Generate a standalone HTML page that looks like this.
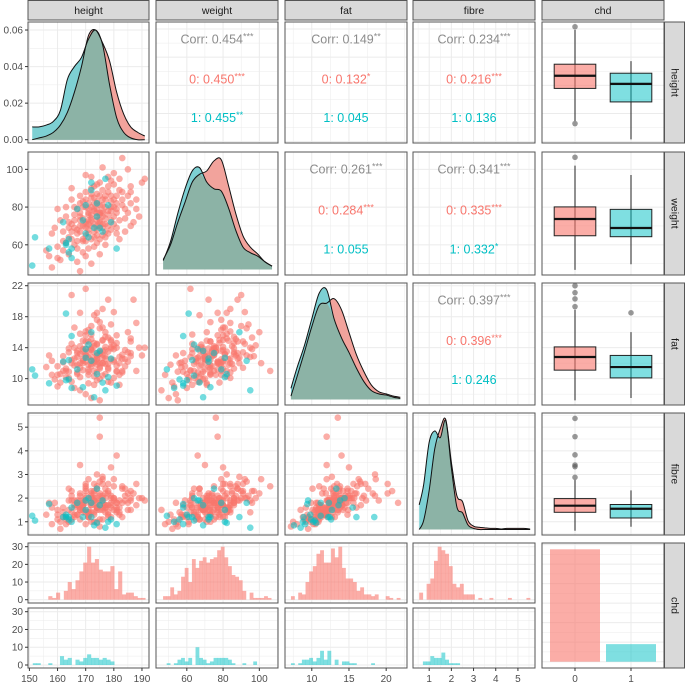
<!DOCTYPE html>
<html><head><meta charset="utf-8"><style>
html,body{margin:0;padding:0;background:#fff;}
svg{display:block;font-family:"Liberation Sans",sans-serif;}
</style></head><body>
<svg id="chart" width="685" height="686" viewBox="0 0 685 686"></svg>
<script>
// ===== data (chd = 0, red) =====
const hgt0=[175,175,181,179,168,174,190,191,183,185,176,160,156,158,161,163,165,170,178,187,168,172,175,166,182,170,172,174,176,171,169,173,177,180,178,167,165,164,162,170,172,175,179,181,183,185,186,188,176,174,171,169,167,165,163,160,158,157,166,168,170,173,176,178,180,182,184,186,189,177,175,173,171,169,167,165,163,161,159,172,174,176,178,174,172,170,168,171,173,175,177,179,181,183,180,176,173,170,168,166,164,172,174,177,179,171,169,173,175,177,160,162,164,167,170,178,181,184,186,188,174,172,170,176,168,166,180,182,174,171,
172,174,176,170,173,175,177,171,169,178,180,172,174,168,166,176,179,181,183,175,173,171,169,167,165,177,179,182,184,186,170,172,168,174,176,178,180,164,162,173,175,171,169,167,177,174,172,179,181,185];
const wgt0=[76,77,66,80,70,82,93,95,106,100,101,79,57,48,52,75,90,62,88,72,46,50,55,60,63,72,76,70,78,68,74,85,84,75,70,66,71,64,67,80,90,93,94,86,81,77,82,79,65,61,58,56,58,63,61,59,66,54,76,82,88,91,89,96,98,89,74,70,75,71,73,67,79,83,79,84,80,73,69,74,77,75,78,73,70,69,73,76,79,81,80,83,79,84,71,69,64,65,67,69,72,85,87,86,73,71,62,59,63,60,53,57,55,51,54,66,69,67,88,84,92,96,97,84,77,80,92,95,68,82,
73,75,77,71,78,72,74,77,70,76,80,80,83,75,73,71,86,77,88,86,82,66,63,68,67,64,68,73,79,91,84,87,86,79,81,91,84,69,62,71,70,73,80,62,67,65,63,78,82,86];
const fat0=[13.5,12.0,14.0,15,12,18.5,13,14,11,16,12,10.5,11.5,10.5,9.5,11,20.8,21.6,20.2,20.2,8.5,7.5,7.2,8.8,9.2,13,14,12.5,15,11.8,13.5,14.2,12.6,13.8,11.2,10.8,12.4,10.1,12.9,15.6,16.8,16.5,17.0,14.6,13.1,12.2,15.2,11.0,10.4,9.8,10.9,12.0,13.3,14.5,10.2,11.6,12.3,13.0,14.0,15.8,14.8,13.4,12.7,15.3,14.3,12.0,13.7,12.9,14.0,16.0,17.3,18.2,16.3,14.9,13.6,12.0,11.3,10.6,9.9,11.6,12.2,13.1,11.9,10.8,12.8,13.9,11.4,10.5,12.1,13.2,14.1,12.5,11.7,10.8,12.4,13.6,11.0,12.2,10.2,12.6,13.9,11.9,13.0,15.4,14.8,9.4,11.1,12.3,13.3,10.6,9.0,12.1,10.9,11.8,8.0,9.6,10.9,11.6,13.3,17.2,14.5,13.8,12.9,19.0,18.5,16.6,18.6,12.8,14.4,13.5,
12.4,13.0,12.0,13.2,14.6,11.5,12.9,11.2,12.5,13.5,12.2,13.7,11.8,14.2,11.7,14.9,13.9,15.6,12.6,11.3,10.3,12.7,13.8,10.6,9.6,11.9,14.1,10.5,12.5,14.8,16.1,15.1,13.2,17.6,16.6,11.4,10.1,13.4,11.0,9.2,10.0,14.8,12.3,12.8,13.7,12.6,15.7,9.5,11.0,13.4];
const fib0=[5.4,4.6,3.8,3.3,3.4,3.0,2.0,1.9,2.5,2.2,2.8,1.5,1.3,0.9,0.7,1.1,2.3,1.8,2.6,2.2,1.5,1.0,0.8,1.2,1.6,2.1,1.8,1.6,2.0,1.5,1.9,2.3,1.7,2.5,1.4,1.3,1.9,2.4,1.6,2.6,2.0,2.7,2.1,1.8,1.2,1.5,2.0,1.7,1.1,1.0,1.2,1.4,1.7,2.1,0.9,1.3,1.6,1.8,1.9,2.2,2.4,2.6,2.9,2.3,2.0,1.9,2.1,1.5,2.0,1.6,1.9,2.2,2.8,1.5,1.7,1.4,1.2,1.0,1.8,1.4,1.6,1.8,1.3,1.5,1.7,2.0,1.6,1.2,1.9,2.1,1.7,1.6,1.4,1.8,2.0,1.5,1.3,1.4,1.1,1.6,1.9,2.2,2.5,2.0,1.8,1.3,1.7,1.9,2.2,1.6,1.1,1.2,1.0,1.3,0.9,1.2,1.5,2.4,1.9,2.6,2.0,1.8,2.3,1.9,2.1,1.7,2.8,1.4,1.6,1.4,
1.7,1.8,1.6,1.9,2.0,1.5,2.2,1.4,1.8,1.7,1.9,2.3,1.6,1.5,1.3,2.1,2.0,1.8,2.4,1.7,1.4,1.2,1.6,1.8,1.1,1.4,1.7,1.3,1.9,2.3,2.5,2.1,1.9,2.4,2.6,2.2,1.5,1.5,1.4,1.0,1.1,1.3,1.7,1.9,2.4,1.8,2.0,1.2,1.6,1.8];
// ===== data (chd = 1, teal) =====
const hgt1=[151,152,157,162,163,164,164,165,163,165,167,169,170,170,172,172,173,174,175,176,177,178,179,181,174,171];
const wgt1=[49,64,58,72,60,63,56,53,61,58,79,73,66,81,93,89,69,75,69,67,95,81,72,58,82,64];
const fat1=[11.2,10.4,9.4,12.2,9.8,12.4,9.9,8.8,18.4,15.5,11.2,8.9,13.8,12.7,12.3,16.0,7.6,13.3,13.6,9.5,8.5,10.2,12.6,9.1,10.6,14.4];
const fib1=[1.25,1.05,1.75,1.2,1.3,1.2,1.1,1.0,1.2,1.6,1.8,1.2,1.9,1.5,1.8,1.2,0.85,2.4,1.7,1.9,0.75,1.0,1.1,0.9,0.95,2.0];
// ===== density curves =====
const densHgtX=[151,153.5,156,158.5,161,163.5,166,168.5,171,173.5,176,178.5,181,183.5,186,188.5,191];
const densHgt0=[0.000,0.001,0.002,0.004,0.008,0.015,0.026,0.040,0.057,0.060,0.053,0.043,0.026,0.014,0.007,0.004,0.002];
const densHgt1=[0.007,0.007,0.008,0.010,0.016,0.033,0.040,0.045,0.055,0.060,0.052,0.030,0.012,0.004,0.001,0.000,0.000];
const densWgtX=[47,51,55,59,63,67,71,75,79,83,87,91,95,99,103,107];
const densWgt0=[0.09,0.22,0.42,0.60,0.78,0.85,0.88,0.97,0.98,0.75,0.50,0.30,0.20,0.14,0.07,0.03];
const densWgt1=[0.08,0.25,0.50,0.72,0.88,0.91,0.78,0.72,0.70,0.55,0.35,0.20,0.15,0.12,0.07,0.03];
const densFatX=[7.2,8,9,10,11,12,13,14,15,16,17,18,19,20,21,21.9];
const densFat0=[0.03,0.20,0.42,0.65,0.84,0.86,0.90,0.80,0.60,0.40,0.25,0.13,0.07,0.05,0.03,0.02];
const densFat1=[0.10,0.28,0.48,0.72,0.95,0.98,0.72,0.55,0.42,0.28,0.16,0.08,0.05,0.04,0.02,0.01];
const densFibX=[0.55,0.75,1.0,1.25,1.5,1.75,2.0,2.25,2.5,2.75,3.0,3.25,3.5,3.75,4.0,4.25,4.5,4.75,5.0,5.25,5.55];
const densFib0=[0.0,0.08,0.35,0.72,0.90,0.98,0.60,0.30,0.25,0.08,0.03,0.02,0.015,0.01,0.01,0.005,0.01,0.01,0.01,0.01,0.005];
const densFib1=[0.22,0.40,0.78,0.88,0.82,0.97,0.55,0.20,0.15,0.04,0.01,0,0,0,0,0,0,0,0,0,0];
// ===== histograms =====
const histHgt0=[0,0,0,0,2,1,4,0,5,10,6,11,16,21,30,21,23,17,16,16,19,6,16,3,4,4,2,1,1];
const histHgt1=[1,1,0,0,1,0,0,5,3,4,0,3,2,4,6,4,4,3,4,3,2,0,0,0,0,0,0,0,0];
const histWgt0=[2,2,7,3,5,13,18,10,23,18,22,24,21,23,24,28,30,24,19,14,13,11,5,0,4,1,1,1,2,1];
const histWgt1=[0,1,0,1,3,4,2,4,0,10,4,3,1,2,4,4,4,4,3,1,0,0,1,0,0,2,0,0,0,0];
const histFat0=[2,0,4,3,10,16,19,26,28,21,21,29,24,30,18,12,12,10,5,7,3,3,2,3,0,0,2,1,0,1];
const histFat1=[1,0,1,3,3,4,2,4,8,3,8,0,3,0,2,2,1,1,0,0,0,0,1,0,0,0,0,0,0,0];
const histFib0=[4,0,9,12,22,30,28,26,19,9,7,9,3,3,3,0,1,0,0,1,0,0,0,0,1,0,0,0,0,1];
const histFib1=[0,2,2,5,4,4,7,3,1,1,1,0,0,0,0,0,0,0,0,0,0,0,0,0,0,0,0,0,0,0];
// ===== boxplot stats [lowWhisker,q1,median,q3,highWhisker] =====
const boxHgt0=[157.3,168.9,173.4,177.5,189.7], outHgt0=[190.8,156.4];
const boxHgt1=[150.8,164.1,170.5,174.3,178.6], outHgt1=[];
const boxWgt0=[46.7,64.8,73.7,80.1,102.0], outWgt0=[106.4];
const boxWgt1=[49.7,64.3,68.9,78.8,97.0], outWgt1=[];
const boxFat0=[7.2,11.1,12.8,14.1,18.9], outFat0=[22.0,21.1,20.3,19.3];
const boxFat1=[7.5,10.1,11.5,13.0,16.0], outFat1=[18.5];
const boxFib0=[0.62,1.4,1.68,1.98,2.77], outFib0=[5.37,4.6,3.83,3.4,3.33,2.88];
const boxFib1=[0.79,1.16,1.55,1.73,2.33], outFib1=[];
// ===== chd counts =====
const chdCats=['0','1'];
const chdCounts=[288,45];
// ===== correlations =====
const corrAll=['0.454','0.149','0.234','0.261','0.341','0.397'];
const corrAllStars=['***','**','***','***','***','***'];
const corr0=['0.450','0.132','0.216','0.284','0.335','0.396'];
const corr0Stars=['***','*','***','***','***','***'];
const corr1=['0.455','0.045','0.136','0.055','0.332','0.246'];
const corr1Stars=['**','','','','*',''];
const vars=['height','weight','fat','fibre'];
const xTicks={height:[150,160,170,180,190],weight:[60,80,100],fat:[10,15,20],fibre:[1,2,3,4,5]};
const yTicks={height:[150,160,170,180,190],weight:[60,80,100],fat:[10,14,18,22],fibre:[1,2,3,4,5]};
const densTicks=[0,0.02,0.04,0.06];
const countTicks=[0,10,20,30];

const RED='#F8766D', TEAL='#00BFC4', OVER='#8CB3A6';
const xDom={height:[149.5,192.5],weight:[43,110.3],fat:[6.4,22.8],fibre:[0.27,5.77]};
const yDom={height:[149.5,192.5],weight:[44,109.2],fat:[6.6,22.35],fibre:[0.44,5.6]};
const colX=[28,156,285,413,542], colW=[121,122,122,122,122];
const rowY=[22,152,283,413,543], rowH=[121,123,122,122,125];
const NS='http://www.w3.org/2000/svg';
const svg=document.getElementById('chart');
function mk(tag,attrs,parent){const e=document.createElementNS(NS,tag);for(const k in attrs)e.setAttribute(k,attrs[k]);(parent||svg).appendChild(e);return e;}
function sx(c,v){const d=xDom[vars[c]];return colX[c]+(v-d[0])/(d[1]-d[0])*colW[c];}
function sy(r,v){const d=yDom[vars[r]];return rowY[r]+rowH[r]-(v-d[0])/(d[1]-d[0])*rowH[r];}
function chdX(i){return 575+56*i;}
function midpoints(t){const s=t[1]-t[0];const out=[t[0]-s/2];t.forEach(v=>out.push(v+s/2));return out;}
function smooth(pts){let d='M'+pts[0][0]+','+pts[0][1];for(let i=0;i<pts.length-1;i++){const p0=pts[i-1]||pts[i],p1=pts[i],p2=pts[i+1],p3=pts[i+2]||p2;const c1=[p1[0]+(p2[0]-p0[0])/6,p1[1]+(p2[1]-p0[1])/6],c2=[p2[0]-(p3[0]-p1[0])/6,p2[1]-(p3[1]-p1[1])/6];d+=' C'+c1[0]+','+c1[1]+' '+c2[0]+','+c2[1]+' '+p2[0]+','+p2[1];}return d;}

let clipId=0;
function panel(x,y,w,h,name){
  const g=mk('g',{});
  
  
  mk('rect',{x:x,y:y,width:w,height:h,fill:'#fff'},g);
  const id='cp'+(clipId++);
  const cp=mk('clipPath',{id:id},g);mk('rect',{x:x,y:y,width:w,height:h},cp);
  const inner=mk('g',{'clip-path':'url(#'+id+')'},g);
  return {g:g,inner:inner,x:x,y:y,w:w,h:h};
}
function border(p){const b=mk('rect',{x:p.x,y:p.y,width:p.w,height:p.h,fill:'none',stroke:'#555','stroke-width':1},p.g);}
function vgrid(p,xs,minor){xs.forEach(x=>{mk('line',{x1:x,x2:x,y1:p.y,y2:p.y+p.h,stroke:'#ebebeb','stroke-width':minor?0.5:1},p.inner);});}
function hgrid(p,ys,minor){ys.forEach(y=>{mk('line',{x1:p.x,x2:p.x+p.w,y1:y,y2:y,stroke:'#ebebeb','stroke-width':minor?0.5:1},p.inner);});}
function colGrid(p,c){if(c<4){const t=xTicks[vars[c]];vgrid(p,midpoints(t).map(v=>sx(c,v)),true);vgrid(p,t.map(v=>sx(c,v)),false);}else{vgrid(p,[chdX(0),chdX(1)],false);}}
function rowGrid(p,r){const t=yTicks[vars[r]];hgrid(p,midpoints(t).map(v=>sy(r,v)),true);hgrid(p,t.map(v=>sy(r,v)),false);}

const varData=[[hgt0,hgt1],[wgt0,wgt1],[fat0,fat1],[fib0,fib1]];
const densX=[densHgtX,densWgtX,densFatX,densFibX];
const densY=[[densHgt0,densHgt1],[densWgt0,densWgt1],[densFat0,densFat1],[densFib0,densFib1]];
const hists=[[histHgt0,histHgt1],[histWgt0,histWgt1],[histFat0,histFat1],[histFib0,histFib1]];
const histStart=[151.2,46.9,7.2,0.55], histBins=[29,30,30,30];
const histEnd=[191.2,106.6,21.9,5.55];
const boxes=[[boxHgt0,boxHgt1],[boxWgt0,boxWgt1],[boxFat0,boxFat1],[boxFib0,boxFib1]];
const outs=[[outHgt0,outHgt1],[outWgt0,outWgt1],[outFat0,outFat1],[outFib0,outFib1]];

let ci=0;
for(let r=0;r<4;r++){
  for(let c=0;c<5;c++){
    const p=panel(colX[c],rowY[r],colW[c],rowH[r],'panel-'+vars[r]+'-'+(c<4?vars[c]:'chd'));
    colGrid(p,c);
    if(r===0&&c===0){const dy=v=>139.7-v*1828;hgrid(p,[0.01,0.03,0.05].map(dy),true);hgrid(p,densTicks.map(dy),false);}
    else rowGrid(p,r);
    if(r===c){
      const base=(r===0)?139.7:rowY[r]+rowH[r]-5.5;
      const toY=(r===0)?(v=>139.7-v*1828):(v=>base-v*112);
      const lines=[];
      [0,1].forEach(gi=>{
        const pts=densX[c].map((xv,i)=>[sx(c,xv),toY(densY[r][gi][i])]);
        const line=smooth(pts);lines.push(line);
        const area=mk('path',{d:line+' L'+pts[pts.length-1][0]+','+base+' L'+pts[0][0]+','+base+' Z',fill:gi?'#7dd0d3':'#f2a39c',stroke:'none'},p.inner);
        
        
      });
      const mpts=densX[c].map((xv,i)=>[sx(c,xv),toY(Math.min(densY[r][0][i],densY[r][1][i]))]);
      mk('path',{d:smooth(mpts)+' L'+mpts[mpts.length-1][0]+','+base+' L'+mpts[0][0]+','+base+' Z',fill:OVER,stroke:'none'},p.inner);
      lines.forEach(l=>mk('path',{d:l,fill:'none',stroke:'#111','stroke-width':1},p.inner));
    } else if(r>c){
      [0,1].forEach(gi=>{
        const xs=varData[c][gi], ys=varData[r][gi];
        xs.forEach((xv,i)=>{
          const pt=mk('circle',{cx:sx(c,xv),cy:sy(r,ys[i]),r:3.3,fill:gi?TEAL:RED,'fill-opacity':gi?0.55:0.6},p.inner);
          
          
        });
      });
    } else if(c<4){
      const cx=p.x+p.w/2;
      const lines=[[corrAll[ci],corrAllStars[ci],'#8c8c8c','Corr: '],[corr0[ci],corr0Stars[ci],RED,'0: '],[corr1[ci],corr1Stars[ci],TEAL,'1: ']];
      const fr=[0.14,0.47,0.79];
      lines.forEach((L,k)=>{
        const t=mk('text',{x:cx,y:p.y+p.h*fr[k]+4.5,'text-anchor':'middle','font-size':12.5,fill:L[2]},p.g);
        
        
        const a=mk('tspan',{},t);a.textContent=L[3]+L[0];
        if(L[1]){const s=mk('tspan',{'font-size':9,dy:-4},t);s.textContent=L[1];}
      });
      ci++;
    } else {
      [0,1].forEach(gi=>{
        const b=boxes[r][gi], cx=chdX(gi), hw=20.8;
        const g=mk('g',{},p.inner);
        
        
        mk('line',{x1:cx,x2:cx,y1:sy(r,b[0]),y2:sy(r,b[4]),stroke:'#222','stroke-width':1},g);
        mk('rect',{x:cx-hw,y:sy(r,b[3]),width:2*hw,height:sy(r,b[1])-sy(r,b[3]),fill:gi?TEAL:RED,'fill-opacity':gi?0.5:0.6,stroke:'#222','stroke-width':1},g);
        mk('line',{x1:cx-hw,x2:cx+hw,y1:sy(r,b[2]),y2:sy(r,b[2]),stroke:'#111','stroke-width':2.2},g);
        outs[r][gi].forEach(v=>{mk('circle',{cx:cx,cy:sy(r,v),r:2.8,fill:'#555','fill-opacity':0.6},g);});
      });
    }
    border(p);
  }
}
for(let c=0;c<4;c++){
  [0,1].forEach(gi=>{
    const top=gi?608:543, h=60, base=gi?665:599.7, k=(gi?53.3:53)/30;
    const p=panel(colX[c],top,colW[c],h,'histogram-'+vars[c]+'-chd-'+gi);
    colGrid(p,c);
    hgrid(p,[5,15,25].map(v=>base-v*k),true);
    hgrid(p,countTicks.map(v=>base-v*k),false);
    const counts=hists[c][gi], bw=(histEnd[c]-histStart[c])/histBins[c];
    counts.forEach((n,i)=>{
      if(!n)return;
      const x0=sx(c,histStart[c]+i*bw), x1=sx(c,histStart[c]+(i+1)*bw);
      const bar=mk('rect',{x:x0,y:base-n*k,width:x1-x0+0.2,height:n*k,fill:gi?TEAL:RED,'fill-opacity':gi?0.5:0.6},p.inner);
      
      
    });
    border(p);
    if(c===0){countTicks.forEach(v=>{const y=base-v*k;mk('line',{x1:25,x2:28,y1:y,y2:y,stroke:'#333'});const t=mk('text',{x:23,y:y+3.5,'text-anchor':'end','font-size':10,fill:'#4d4d4d'});t.textContent=v;});}
  });
}
{
  const p=panel(542,543,122,125,'bar-chart-chd');
  vgrid(p,[chdX(0),chdX(1)],false);
  const base=661.7, k=(661.7-549.3)/288;
  hgrid(p,[25,75,125,175,225,275].map(v=>base-v*k),true);
  hgrid(p,[0,50,100,150,200,250,300].map(v=>base-v*k),false);
  chdCounts.forEach((n,i)=>{
    const b=mk('rect',{x:chdX(i)-25,y:base-n*k,width:50,height:n*k,fill:i?TEAL:RED,'fill-opacity':i?0.5:0.6},p.inner);
    
    
  });
  border(p);
}
const stripNames=['height','weight','fat','fibre','chd'];
stripNames.forEach((n,c)=>{
  const g=mk('g',{});
  
  
  mk('rect',{x:colX[c],y:0.5,width:colW[c],height:19.5,fill:'#d9d9d9',stroke:'#555','stroke-width':1},g);
  const t=mk('text',{x:colX[c]+colW[c]/2,y:14,'text-anchor':'middle','font-size':10.5,fill:'#1a1a1a'},g);t.textContent=n;
});
const rightRows=[[22,121,'height'],[152,123,'weight'],[283,122,'fat'],[413,122,'fibre'],[543,125,'chd']];
rightRows.forEach(rr=>{
  const g=mk('g',{});
  
  
  mk('rect',{x:664.5,y:rr[0],width:20,height:rr[1],fill:'#d9d9d9',stroke:'#555','stroke-width':1},g);
  const cx=674.5, cy=rr[0]+rr[1]/2;
  const t=mk('text',{x:cx,y:cy,'text-anchor':'middle','dominant-baseline':'central','font-size':10.5,fill:'#1a1a1a',transform:'rotate(90 '+cx+' '+cy+')'},g);t.textContent=rr[2];
});
function yLabel(y,txt){mk('line',{x1:25,x2:28,y1:y,y2:y,stroke:'#333'});const t=mk('text',{x:23,y:y+3.5,'text-anchor':'end','font-size':10,fill:'#4d4d4d'});t.textContent=txt;}
densTicks.forEach(v=>yLabel(139.7-v*1828,v.toFixed(2)));
for(let r=1;r<4;r++){yTicks[vars[r]].forEach(v=>yLabel(sy(r,v),v));}
function xLabel(x,txt){mk('line',{x1:x,x2:x,y1:668,y2:671,stroke:'#333'});const t=mk('text',{x:x,y:682,'text-anchor':'middle','font-size':10,fill:'#4d4d4d'});t.textContent=txt;}
for(let c=0;c<4;c++){xTicks[vars[c]].forEach(v=>xLabel(sx(c,v),v));}
chdCats.forEach((v,i)=>xLabel(chdX(i),v));
</script>
</body></html>
